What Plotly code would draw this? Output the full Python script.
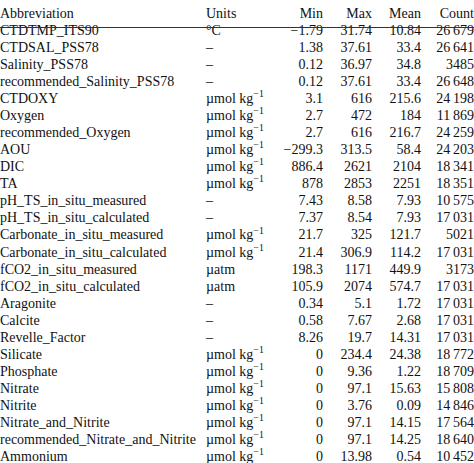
import plotly.graph_objects as go

headers = ["Abbreviation", "Units", "Min", "Max", "Mean", "Count"]
abbrev = ["CTDTMP_ITS90", "CTDSAL_PSS78", "Salinity_PSS78", "recommended_Salinity_PSS78",
          "CTDOXY", "Oxygen", "recommended_Oxygen", "AOU", "DIC", "TA",
          "pH_TS_in_situ_measured", "pH_TS_in_situ_calculated",
          "Carbonate_in_situ_measured", "Carbonate_in_situ_calculated",
          "fCO2_in_situ_measured", "fCO2_in_situ_calculated",
          "Aragonite", "Calcite", "Revelle_Factor", "Silicate", "Phosphate",
          "Nitrate", "Nitrite", "Nitrate_and_Nitrite",
          "recommended_Nitrate_and_Nitrite", "Ammonium"]
U = "µmol kg<sup>−1</sup>"
units = ["°C", "–", "–", "–", U, U, U, U, U, U, "–", "–", U, U, "µatm", "µatm",
         "–", "–", "–", U, U, U, U, U, U, U]
mins = ["−1.79", "1.38", "0.12", "0.12", "3.1", "2.7", "2.7", "−299.3", "886.4", "878",
        "7.43", "7.37", "21.7", "21.4", "198.3", "105.9", "0.34", "0.58", "8.26",
        "0", "0", "0", "0", "0", "0", "0"]
maxs = ["31.74", "37.61", "36.97", "37.61", "616", "472", "616", "313.5", "2621", "2853",
        "8.58", "8.54", "325", "306.9", "1171", "2074", "5.1", "7.67", "19.7",
        "234.4", "9.36", "97.1", "3.76", "97.1", "97.1", "13.98"]
means = ["10.84", "33.4", "34.8", "33.4", "215.6", "184", "216.7", "58.4", "2104", "2251",
         "7.93", "7.93", "121.7", "114.2", "449.9", "574.7", "1.72", "2.68", "14.31",
         "24.38", "1.22", "15.63", "0.09", "14.15", "14.25", "0.54"]
counts = ["26 679", "26 641", "3485", "26 648", "24 198", "11 869", "24 259", "24 203",
          "18 341", "18 351", "10 575", "17 031", "5021", "17 031", "3173", "17 031",
          "17 031", "17 031", "17 031", "18 772", "18 709", "15 808", "14 846",
          "17 564", "18 640", "10 452"]
counts = [c.replace(" ", "\u2009") for c in counts]

W, H = 474, 463
y0, pitch = 31.5, 17.04
ys = [y0 + i * pitch for i in range(len(abbrev))]
font = dict(family="Liberation Serif", size=14, color="#111111")

fig = go.Figure()
cols = [(abbrev, 0, "middle right"), (units, 206, "middle right"),
        (mins, 323, "middle left"), (maxs, 372, "middle left"),
        (means, 421, "middle left"), (counts, 474, "middle left")]
for vals, x, pos in cols:
    fig.add_trace(go.Scatter(x=[x] * len(vals), y=ys, text=vals, mode="text",
                             textposition=pos, textfont=font, hoverinfo="skip",
                             showlegend=False, cliponaxis=False))
hx = [0, 206, 323, 372, 421, 474]
hpos = ["middle right", "middle right", "middle left", "middle left", "middle left", "middle left"]
fig.add_trace(go.Scatter(x=hx, y=[14] * 6, text=headers, mode="text", textposition=hpos,
                         textfont=font, hoverinfo="skip", showlegend=False, cliponaxis=False))
fig.add_shape(type="line", xref="x", yref="y", x0=0, x1=W, y0=27.5, y1=27.5,
              line=dict(color="#333", width=1))

fig.update_layout(width=W, height=H, margin=dict(l=0, r=0, t=0, b=0, pad=0),
                  paper_bgcolor="white", plot_bgcolor="white",
                  xaxis=dict(range=[0, W], visible=False, fixedrange=True, autorange=False),
                  yaxis=dict(range=[H, 0], visible=False, fixedrange=True, autorange=False))
fig.write_html("out.html", config={"displayModeBar": False})

with open("out.html", encoding="utf-8") as f:
    html = f.read()
html = html.replace("<body>", '<body style="margin:0;padding:0;overflow:hidden">', 1)
with open("out.html", "w", encoding="utf-8") as f:
    f.write(html)
